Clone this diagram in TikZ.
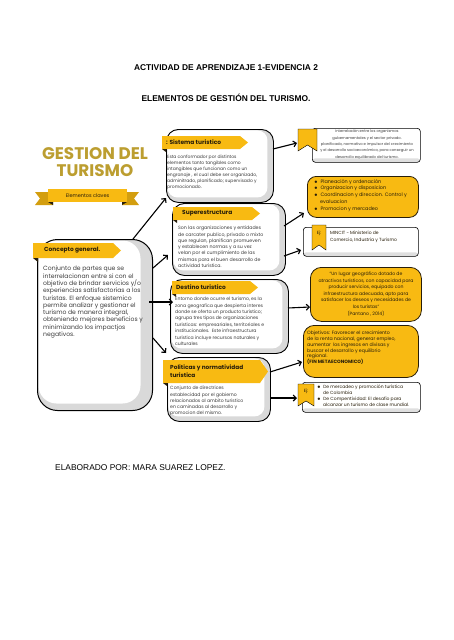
\documentclass[tikz,border=0pt]{standalone}
\usepackage{fontspec}
\setmainfont{Poppins}
\newfontfamily\arialf{Liberation Sans}
\usetikzlibrary{arrows.meta}
\definecolor{yel}{RGB}{248,186,18}
\definecolor{goldt}{RGB}{188,158,48}
\definecolor{txt}{RGB}{60,60,60}
\definecolor{dk}{RGB}{40,30,10}
\newcommand\myfs[2]{\fontsize{#1}{#2}\selectfont}
\begin{document}
\begin{tikzpicture}[x=1pt,y=-1pt,
  midbox/.style={draw, line width=0.9pt, rounded corners=12pt, fill=gray!30, inner sep=0,
    path picture={\fill[white, rounded corners=10pt] ([shift={(1pt,-1pt)}]path picture bounding box.north west) rectangle ([shift={(-6pt,5pt)}]path picture bounding box.south east);}},
  bigbox/.style={draw, line width=1pt, rounded corners=20pt, fill=gray!30, inner sep=0,
    path picture={\fill[white, rounded corners=18pt] ([shift={(1pt,-1pt)}]path picture bounding box.north west) rectangle ([shift={(-12pt,7pt)}]path picture bounding box.south east);}},
  yelbox/.style={draw=dk, line width=0.8pt, rounded corners=9pt, fill=yel, inner sep=0},
  whbox/.style={draw=black, line width=0.6pt, rounded corners=3pt, fill=white, inner sep=0,
    path picture={\fill[gray!25] ([shift={(0pt,4pt)}]path picture bounding box.south west) rectangle (path picture bounding box.south east);}},
  tagshape/.style={fill=yel},
  bmark/.style={fill=yel, draw=black, line width=0.4pt},
  ttl/.style={font=\arialf\bfseries\myfs{8.4}{10}, inner sep=0},
  tagtext/.style={font=\bfseries\myfs{5.9}{7}, text=dk, anchor=west, inner sep=0, align=left},
  btext/.style={anchor=north west, inner sep=0, align=left, text=txt},
  arr/.style={-{Straight Barb[length=3pt,width=6pt]}, line width=1.1pt}
]
\useasboundingbox[fill=white] (0,0) rectangle (453,640);

% titles
\node[ttl] (t1) at (226,68) {ACTIVIDAD DE APRENDIZAJE 1-EVIDENCIA 2};
\node[ttl] (t2) at (226,98) {ELEMENTOS DE GESTIÓN DEL TURISMO.};
\node[font=\bfseries\myfs{16.8}{17}, text=goldt, align=center, inner sep=0] (gt) at (95,162) {GESTION DEL\\TURISMO};

% elementos claves ribbon
\path[fill=yel!85!black] (35,192) -- (53,192) -- (53,205) -- (35,205) -- (40,198.5) -- cycle;
\path[fill=yel!85!black] (139,192) -- (122,192) -- (122,205) -- (139,205) -- (134,198.5) -- cycle;
\path[fill=dk] (48,202) -- (53,202) -- (53,205) -- cycle;
\path[fill=dk] (127,202) -- (122,202) -- (122,205) -- cycle;
\node[fill=yel, minimum width=79pt, minimum height=13pt, inner sep=0, font=\myfs{5}{6}, text=dk] (ek) at (87.5,195.5) {Elementos claves};

% big box
\node[bigbox, anchor=north west, minimum width=115pt, minimum height=171pt] (big) at (37,239) {};
\path[tagshape] (33,243) -- (113,243) -- (121,250.5) -- (113,258) -- (33,258) -- cycle;
\path[fill=dk] (33,258) -- (38,258) -- (38,262) -- cycle;
\node[tagtext] (cg) at (44,250.5) {Concepto general.};
\node[btext, font=\myfs{6.1}{7.3}] (cgt) at (43,266) {Conjunto de partes que se\\interrelacionan entre si con el\\objetivo de brindar servicios y/o\\experiencias satisfactorias a los\\turistas. El enfoque sistemico\\permite analizar y gestionar el\\turismo de manera integral,\\obteniendo mejores beneficios y\\minimizando los impactjos\\negativos.};

% middle boxes
\node[midbox, anchor=north west, minimum width=107pt, minimum height=73pt] (sis) at (166,129) {};
\node[midbox, anchor=north west, minimum width=113pt, minimum height=72pt] (sup) at (172,203) {};
\node[midbox, anchor=north west, minimum width=118pt, minimum height=74pt] (des) at (170,279) {};
\node[midbox, anchor=north west, minimum width=103pt, minimum height=64pt] (pol) at (167,357) {};

% tags
\path[tagshape] (162,136) -- (240,136) -- (248,142.5) -- (240,149) -- (162,149) -- cycle;
\path[fill=dk] (162,149) -- (166,149) -- (166,152) -- cycle;
\node[tagtext] (sist) at (166,142.5) {: Sistema turistico};
\path[tagshape] (173,207) -- (252,207) -- (260,213.5) -- (252,220) -- (173,220) -- cycle;
\path[fill=dk] (173,220) -- (177,220) -- (177,223) -- cycle;
\node[tagtext] (supt) at (182,213.5) {Superestructura};
\path[tagshape] (172,281) -- (250,281) -- (258,287.5) -- (250,294) -- (172,294) -- cycle;
\path[fill=dk] (172,294) -- (176,294) -- (176,297) -- cycle;
\node[tagtext] (dest) at (176,287.5) {Destino turistico};
\path[tagshape] (163,360) -- (260,360) -- (268,371.5) -- (260,383) -- (163,383) -- cycle;
\path[fill=dk] (163,383) -- (167,383) -- (167,386) -- cycle;
\node[tagtext, font=\bfseries\myfs{5.8}{8}] (polt) at (170,371.5) {Politicas y normatividad\\turistica};

% middle texts
\node[btext, font=\myfs{4.5}{6}] (sistx) at (167,155) {Esta conformador por distintos\\elementos tanto tangibles como\\intangibles que funcionan como un\\engranaje , el cual debe ser organizado,\\adminitrado, planificado; supervisado y\\promocionado.};
\node[btext, font=\myfs{4.7}{6.3}] (suptx) at (178,226) {Son las organizaciones y entidades\\de carcater publico, privado o mixto\\que regulan, planifican promueven\\y establecen normas y a su vez\\velan por el cumplimiento de las\\mismas para el buen desarrollo de\\actividad turistica.};
\node[btext, font=\myfs{4.6}{6.4}] (destx) at (175,297) {Entorno donde ocurre el turismo, es la\\zona geografica que despierta interes\\donde se oferta un producto turistico;\\agrupa tres tipos de organizaciones\\turisticas: empresariales, territoriales e\\institucionales.\ \ Este infraestructura\\turistica incluye recursos naturales y\\culturales};
\node[btext, font=\myfs{4.6}{6.3}] (poltx) at (170,386) {Conjunto de directrices\\establecidad por el gobierno\\relacionados al ambito turistico\\en caminadas al desarrollo y\\promocion del mismo.};

% right boxes
\node[whbox, anchor=north west, minimum width=108pt, minimum height=34pt] (r1) at (312,128) {};
\path[bmark] (298,129) -- (317,129) -- (317,151) -- (307.5,145) -- (298,151) -- cycle;
\node[inner sep=0, align=center, font=\myfs{3.7}{6.3}, text=txt] (r1t) at (367,144.5) {interrelación entre los organismos\\gubernamentales y el sector privado.\\planificado, normativo e impulsor del crecimiento\\y el desarrollo socioeconómico, para conseguir un\\desarrollo equilibrado del turismo.};

\node[yelbox, anchor=north west, minimum width=111pt, minimum height=41pt] (r2) at (307,176) {};
\node[btext, font=\myfs{4.9}{6.8}, text=dk] (r2t) at (314,179) {$\bullet$\ \ Planeación y ordenación\\$\bullet$\ \ Organizacion y disposicion\\$\bullet$\ \ Coordinacion y direccion. Control y\\\hspace*{6pt}evaluacion\\$\bullet$\ \ Promocion y mercadeo};

\node[whbox, anchor=north west, minimum width=115pt, minimum height=29pt] (r3) at (303,227) {};
\path[bmark] (312,225) -- (326,225) -- (326,250) -- (319,245) -- (312,250) -- cycle;
\node[inner sep=0, font=\myfs{4.5}{5}, text=dk] (r3e) at (319,233) {Ej:};
\node[btext, font=\myfs{4.5}{7}, text=dk] (r3t) at (330,231) {MINCIT - Ministerio de\\Comercio, Industria y Turismo};

\node[yelbox, rounded corners=11pt, anchor=north west, minimum width=111pt, minimum height=54pt] (r4) at (310,267) {};
\node[inner sep=0, align=center, font=\myfs{4.6}{6.6}, text=dk] (r4t) at (366,294) {"Un lugar geográfico dotado de\\atractivos turísticos, con capacidad para\\producir servicios, equipado con\\infraestructura adecuada, apto para\\satisfacer los deseos y necesidades de\\los turistas"\\(Pantano , 2014)};

\node[yelbox, rounded corners=11pt, anchor=north west, minimum width=115pt, minimum height=52pt] (r5) at (303,325) {};
\node[btext, font=\myfs{4.7}{5.8}, text=dk] (r5t) at (307,331) {Objetivos: Favorecer el crecimiento\\de la renta nacional, generar empleo,\\aumentar\ \ los ingresos en divisas y\\buscar el desarrollo y equilibrio\\regional.\\\textbf{(FIN METAECONOMICO)}};

\node[whbox, anchor=north west, minimum width=118pt, minimum height=30pt] (r6) at (302,382) {};
\path[bmark] (298,384) -- (314,384) -- (314,406) -- (306,401) -- (298,406) -- cycle;
\node[inner sep=0, font=\myfs{4.5}{5}, text=dk] (r6e) at (306,391) {Ej:};
\node[btext, font=\myfs{4.5}{6}, text=dk] (r6t) at (317,385) {$\bullet$\ \ De mercadeo y promoción turística\\\hspace*{6pt}de Colombia\\$\bullet$\ \ De Compentividad: El desafio para\\\hspace*{6pt}alcanzar un turismo de clase mundial.};

% connector end points
\coordinate (a1s) at (133,239); \coordinate (a1e) at (166,198);
\coordinate (a2s) at (153,268); \coordinate (a2e) at (168,255);
\coordinate (a3s) at (149,302); \coordinate (a3e) at (173,302);
\coordinate (a4s) at (153,338); \coordinate (a4e) at (166,353);
\coordinate (b1s) at (273,149); \coordinate (b1e) at (297,143);
\coordinate (b2s) at (284,226); \coordinate (b2e) at (304,213);
\coordinate (b3s) at (284,256); \coordinate (b3e) at (301,250);
\coordinate (b4s) at (288,308); \coordinate (b4e) at (310,307);
\coordinate (b5s) at (270,372); \coordinate (b5e) at (302,362);
\coordinate (b6s) at (270,398); \coordinate (b6e) at (297,398);
\foreach \a in {a1,a2,a3,a4,b1,b2,b3,b4,b5,b6} \draw[arr] (\a s) -- (\a e);

\node[font=\arialf\myfs{8.4}{10}, anchor=west, inner sep=0] (auth) at (55,468) {ELABORADO POR: MARA SUAREZ LOPEZ.};
\end{tikzpicture}
\end{document}
